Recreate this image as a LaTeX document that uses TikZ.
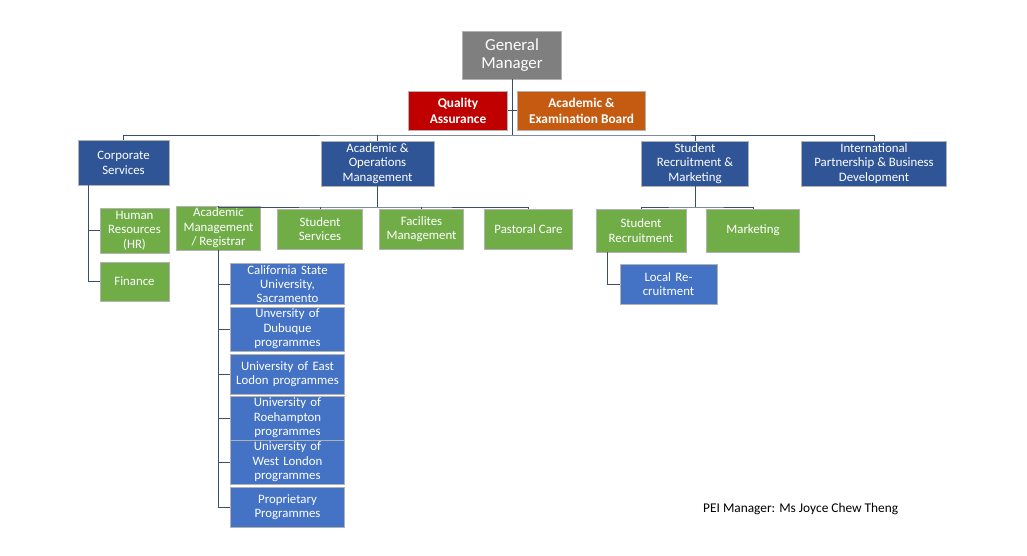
\documentclass[tikz,border=0pt]{standalone}
\usepackage{fontspec}
\setmainfont{Carlito}
\usetikzlibrary{positioning}
\definecolor{gmgray}{HTML}{7F7F7F}
\definecolor{qared}{HTML}{C00000}
\definecolor{aeborange}{HTML}{C55A11}
\definecolor{deptblue}{HTML}{2F5597}
\definecolor{unitgreen}{HTML}{70AD47}
\definecolor{progblue}{HTML}{4472C4}
\definecolor{linkblue}{HTML}{3B4F66}
\tikzstyle{box} = [rectangle, text centered, text=white, inner sep=1pt, font=\fontsize{7.3}{8.2}\selectfont, draw=white!70!black, line width=0.2pt]
\tikzstyle{dept} = [box, fill=deptblue, minimum width=51.5pt, minimum height=25.5pt]
\tikzstyle{unit} = [box, fill=unitgreen, minimum height=22.5pt]
\tikzstyle{prog} = [box, fill=progblue, minimum width=65pt, minimum height=22.5pt, text width=60pt]
\tikzstyle{link} = [draw=linkblue, line width=0.5pt]
\begin{document}
\begin{tikzpicture}[x=0.02cm, y=-0.02cm]
\useasboundingbox (0,0) rectangle (1027,555);
\node (gm) [box, fill=gmgray, minimum width=56.5pt, minimum height=27.5pt, font=\fontsize{9.6}{10.5}\selectfont, align=center] at (512,55) {General\\Manager};
\node (qa) [box, fill=qared, minimum width=56.5pt, minimum height=22pt, font=\bfseries\fontsize{7.6}{9}\selectfont, align=center] at (458,110.5) {Quality\\Assurance};
\node (aeb) [box, fill=aeborange, minimum width=73pt, minimum height=22pt, font=\bfseries\fontsize{7.6}{9}\selectfont, align=center] at (581.5,110.5) {Academic \&\\Examination Board};
\node (corp) [dept, align=center] at (123.5,163) {Corporate\\Services};
\node (aom) [dept, minimum width=64pt, align=center] at (377.5,163.5) {Academic \&\\Operations\\Management};
\node (srm) [dept, minimum width=61pt, align=center] at (695,163.5) {Student\\Recruitment \&\\Marketing};
\node (ipbd) [dept, minimum width=82.5pt, align=center] at (874,163.5) {International\\Partnership \& Business\\Development};
\node (hr) [unit, minimum width=39pt, minimum height=25.5pt, align=center] at (134.5,230.5) {Human\\Resources\\(HR)};
\node (fin) [unit, minimum width=39pt] at (134.5,281.5) {Finance};
\node (am) [unit, minimum width=48pt, align=center] at (218.5,228) {Academic\\Management\\/ Registrar};
\node (ss) [unit, minimum width=48.5pt, align=center] at (320,229) {Student\\Services};
\node (fm) [unit, minimum width=48pt, align=center] at (421.5,229) {Facilites\\Management};
\node (pc) [unit, minimum width=50pt] at (528.5,229) {Pastoral Care};
\node (sr) [unit, minimum width=51pt, minimum height=24.5pt, align=center] at (641,230.5) {Student\\Recruitment};
\node (mkt) [unit, minimum width=53pt, minimum height=24.5pt] at (753,230.5) {Marketing};
\node (lr) [prog, minimum width=55pt, text width=50pt] at (668.5,284) {Local Recruitment};
\node (csus) [prog] at (287.5,284) {California State University, Sacramento};
\node (dub) [prog] at (287.5,329) {Unversity of Dubuque programmes};
\node (uel) [prog] at (287.5,374) {University of East Lodon programmes};
\node (roe) [prog] at (287.5,418) {University of Roehampton programmes};
\node (uwl) [prog] at (287.5,462) {University of West London programmes};
\node (prop) [prog] at (287.5,507) {Proprietary Programmes};
\node (pei) [anchor=west, font=\fontsize{7.6}{9}\selectfont] at (697,509) {PEI Manager: Ms Joyce Chew Theng};
% top level
\coordinate (bus) at (512,135);
\draw [link] (gm) -- (bus);
\draw [link] (qa.east) -- (aeb.west);
\draw [link] (corp.north) |- (bus) -| (ipbd.north);
\draw [link] (aom.north) -- (aom.north |- bus);
\draw [link] (srm.north) -- (srm.north |- bus);
% corporate services
\coordinate (cs) at (88,185);
\draw [link] (cs) |- (fin.west);
\draw [link] (cs |- hr.west) -- (hr.west);
% academic & operations
\coordinate (ab) at (377.5,207);
\draw [link] (aom.south) -- (ab);
\draw [link] (am.north) |- (ab) -| (pc.north);
\draw [link] (ss.north) -- (ss.north |- ab);
\draw [link] (fm.north) -- (fm.north |- ab);
\draw [link] (am.south) |- (prop.west);
\foreach \p in {csus,dub,uel,roe,uwl}
  \draw [link] (am.south |- \p.west) -- (\p.west);
% student recruitment
\coordinate (sb) at (695,207);
\draw [link] (srm.south) -- (sb);
\draw [link] (sr.north) |- (sb) -| (mkt.north);
\draw [link] (607,252) |- (lr.west);
\end{tikzpicture}
\end{document}
